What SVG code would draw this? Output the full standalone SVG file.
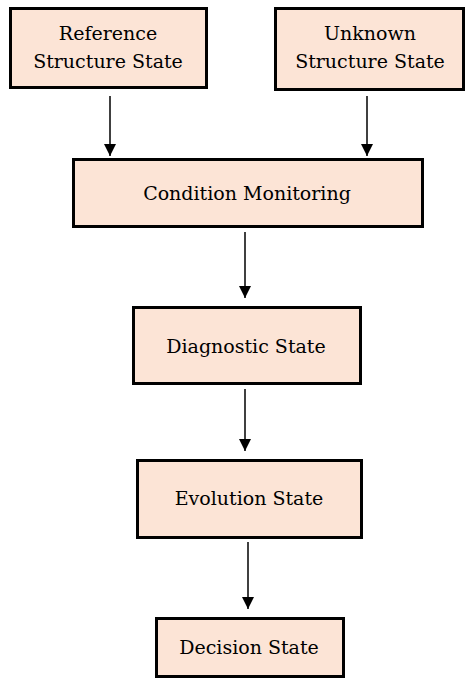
<svg xmlns="http://www.w3.org/2000/svg" width="474" height="686" viewBox="0 0 474 686">
<style>
.box{fill:#FCE4D6;stroke:#000;stroke-width:3}
.t{font-family:'DejaVu Serif',serif;font-size:19px;fill:#000;text-anchor:middle}
.c{stroke:#000;stroke-width:1.5;fill:none;marker-end:url(#ah)}
</style>
<defs>
<marker id="ah" markerUnits="userSpaceOnUse" markerWidth="12" markerHeight="13" refX="12" refY="6" orient="auto">
<path d="M0,0 L12,6 L0,12 z" fill="#000"/>
</marker>
</defs>
<rect width="474" height="686" fill="#fff"/>
<g id="reference">
<rect class="box" x="10.5" y="8.5" width="196" height="79"/>
<text class="t" x="108" y="40">Reference</text>
<text class="t" x="108" y="68">Structure State</text>
</g>
<g id="unknown">
<rect class="box" x="275.5" y="8.5" width="188" height="81"/>
<text class="t" x="370" y="40">Unknown</text>
<text class="t" x="370" y="68">Structure State</text>
</g>
<g id="condition">
<rect class="box" x="73.5" y="159.5" width="349" height="67"/>
<text class="t" x="247" y="200">Condition Monitoring</text>
</g>
<g id="diagnostic">
<rect class="box" x="133.5" y="307.5" width="227" height="76"/>
<text class="t" x="246" y="353">Diagnostic State</text>
</g>
<g id="evolution">
<rect class="box" x="137.5" y="460.5" width="224" height="77"/>
<text class="t" x="249" y="505">Evolution State</text>
</g>
<g id="decision">
<rect class="box" x="156.5" y="618.5" width="187" height="58"/>
<text class="t" x="249" y="654">Decision State</text>
</g>
<g id="connectors">
<line class="c" x1="110" y1="96" x2="110" y2="156"/>
<line class="c" x1="367" y1="96" x2="367" y2="156"/>
<line class="c" x1="245" y1="232" x2="245" y2="298"/>
<line class="c" x1="245" y1="389" x2="245" y2="451"/>
<line class="c" x1="248" y1="542" x2="248" y2="609"/>
</g>
</svg>
